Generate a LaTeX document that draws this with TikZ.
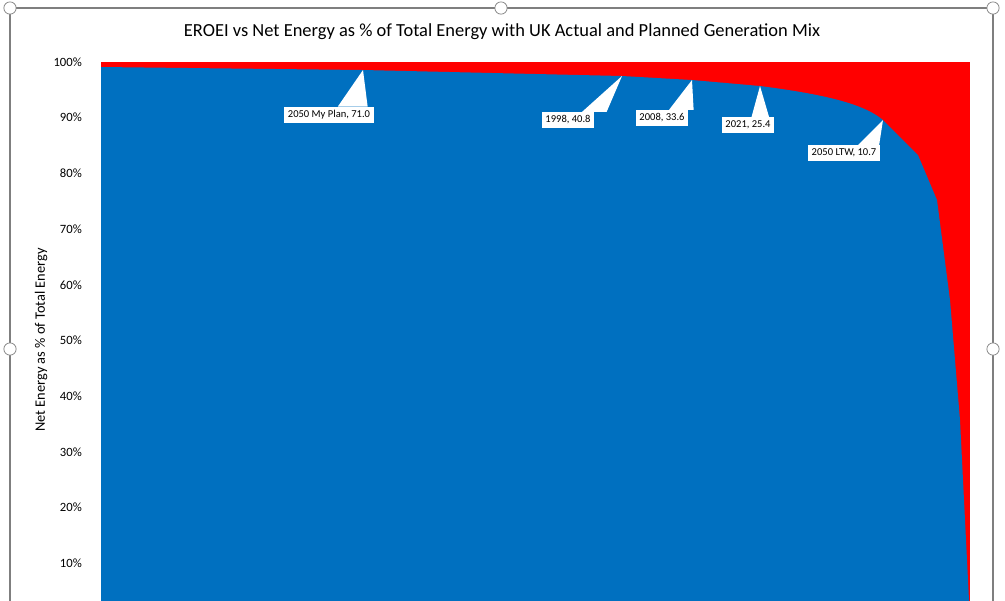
\documentclass[tikz,border=0pt]{standalone}
\usepackage{fontspec}
\setmainfont{Carlito}
\definecolor{netblue}{HTML}{0070C0}
\definecolor{framegray}{HTML}{7F7F7F}
\begin{document}
\begin{tikzpicture}[x=0.02cm,y=-0.02cm,
	handle/.style={circle, draw=framegray, fill=white, inner sep=0pt, minimum size=7pt},
	tick/.style={anchor=east, font=\fontsize{7.2}{8}\selectfont},
	callout/.style={fill=white, inner sep=2pt, font=\fontsize{6}{7}\selectfont}]
	\useasboundingbox (0,0) rectangle (1005,600);
	
	%Frame
	\draw[framegray, line width=0.8pt] (10,700) -- (10,8) -- (993,8) -- (993,700);
	\foreach \p in {(10,8),(501,8),(993,8),(10,349),(993,349)}
		\node[handle] at \p {};
	
	%Areas
	\fill[red] (101,62) rectangle (970,620);
	\fill[netblue] (101,620) -- (101,67) -- (363,70) -- (622,76) -- (692,80) -- (760,86)
		.. controls (830,95) and (865,105) .. (883,120) -- (918,155) -- (937,200)
		-- (950,300) -- (960,420) -- (970,620) -- cycle;
	
	%Title and axis
	\node[font=\fontsize{10.5}{12}\selectfont] (title) at (502,32) {EROEI vs Net Energy as \% of Total Energy with UK Actual and Planned Generation Mix};
	\node[rotate=90, font=\fontsize{8.2}{10}\selectfont] (ytitle) at (41,340) {Net Energy as \% of Total Energy};
	\foreach \v [evaluate=\v as \yy using {619-5.57*\v}] in {10,20,...,100}
		\node[tick] at (88,\yy) {\v\%};
	
	%Callouts
	\coordinate (tplan) at (363,70);
	\coordinate (t1998) at (622,76);
	\coordinate (t2008) at (692,80);
	\coordinate (t2021) at (760,86);
	\coordinate (tltw) at (883,120);
	\node[callout] (plan) at (329,115) {2050 My Plan, 71.0};
	\node[callout] (c1998) at (568,120) {1998, 40.8};
	\node[callout] (c2008) at (662,118) {2008, 33.6};
	\node[callout] (c2021) at (748,125) {2021, 25.4};
	\node[callout] (ltw) at (844,153) {2050 LTW, 10.7};
	\fill[white] ([xshift=5]plan.north) -- (tplan) -- ([xshift=22]plan.north) -- cycle;
	\fill[white] ([xshift=8]c1998.north) -- (t1998) -- ([xshift=22]c1998.north) -- cycle;
	\fill[white] ([xshift=4]c2008.north) -- (t2008) -- ([xshift=18]c2008.north) -- cycle;
	\fill[white] ([xshift=2]c2021.north) -- (t2021) -- ([xshift=12]c2021.north) -- cycle;
	\fill[white] ([xshift=8]ltw.north) -- (tltw) -- ([xshift=20]ltw.north) -- cycle;
\end{tikzpicture}
\end{document}
